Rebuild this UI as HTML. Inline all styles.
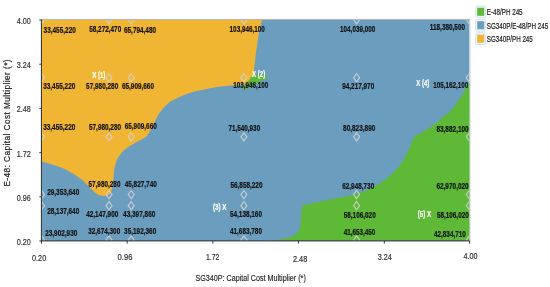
<!DOCTYPE html>
<html lang="en">
<head>
<meta charset="utf-8">
<title>Capital Cost Multiplier chart</title>
<style>
html,body{margin:0;padding:0;background:#fff;}
body{width:550px;height:287px;overflow:hidden;font-family:"Liberation Sans",sans-serif;}
svg{display:block;}
svg text{font-family:"Liberation Sans",sans-serif;}
.dl text{font-size:9.0px;font-weight:bold;fill:#111;stroke:#111;stroke-width:0.2px;}
.xl text{font-size:8.4px;stroke:#fff;stroke-width:0.2px;font-weight:bold;fill:#fff;}
.ax text{font-size:9.9px;fill:#2e2e2e;stroke:#2e2e2e;stroke-width:0.2px;}
.ttl{font-size:9px;fill:#222;stroke:#222;stroke-width:0.15px;}
.ttly{font-size:8.3px;fill:#222;stroke:#222;stroke-width:0.2px;}
.lg text{font-size:9.6px;fill:#151515;stroke:#151515;stroke-width:0.2px;}
.dia path{fill:none;stroke:#d4d4d4;stroke-width:1.25;stroke-opacity:0.8;}
.tk path{stroke:#333;stroke-width:1;fill:none;}
</style>
</head>
<body>
<svg width="550" height="287" viewBox="0 0 550 287">
<rect x="0" y="0" width="550" height="287" fill="#fff"/>
<defs><clipPath id="pc"><rect x="41.5" y="19.9" width="428.1" height="221.1"/></clipPath></defs>
<rect x="469.6" y="19.9" width="1.3" height="221.5" fill="#e6e6e6"/>
<rect x="41.5" y="18.9" width="428.6" height="1.2" fill="#b9b9b9"/>
<g clip-path="url(#pc)">
<rect x="41.5" y="19.9" width="428.1" height="221.1" fill="#6B9DBF"/>
<path d="M41.5,19.9 L262.0,19.9 L259.7,29.0 L258.2,37.0 L256.9,46.0 L255.7,55.0 L254.8,63.0 L254.1,70.0 L253.7,74.3 L246.2,84.0 L240.0,84.4 L234.0,85.0 L228.5,85.7 L221.0,86.6 L214.0,87.6 L206.5,89.0 L199.0,90.4 L192.0,92.3 L184.6,94.8 L177.3,97.9 L170.0,101.8 L164.0,107.3 L159.0,113.4 L155.5,120.0 L152.8,126.0 L150.0,131.0 L146.5,136.4 L141.5,139.5 L137.6,141.5 L133.5,144.0 L129.0,146.5 L125.0,149.5 L121.7,152.5 L118.8,156.5 L116.8,160.0 L115.2,165.0 L114.2,170.0 L113.6,176.0 L113.1,182.0 L112.5,187.0 L111.6,190.5 L110.4,193.0 L108.5,195.0 L105.9,195.8 L102.0,195.8 L98.5,195.0 L94.9,192.5 L90.0,187.8 L86.0,183.5 L82.7,180.3 L78.0,177.0 L74.0,174.2 L69.0,171.2 L64.4,168.8 L58.0,166.5 L52.2,164.5 L46.0,162.7 L41.5,161.5Z" fill="#F0B532"/>
<path d="M253.7,74.3 L260.0,74.8 L266.7,75.6 L266.7,78.4 L258.4,82.8 L251.6,86.2 L245.0,89.0 L242.3,89.6 L242.5,87.5 L246.2,84.0Z" fill="#5DB936"/>
<path d="M276.4,240.4 L282.0,239.0 L287.9,237.7 L291.5,236.8 L294.5,235.5 L297.0,233.5 L298.6,231.2 L299.8,228.0 L300.6,223.0 L301.1,217.0 L301.6,210.5 L302.0,207.3 L302.8,205.4 L304.5,205.0 L311.7,203.4 L320.0,201.6 L328.8,199.7 L343.4,196.8 L352.0,195.0 L360.3,192.8 L366.0,190.6 L372.0,188.0 L378.0,184.5 L383.7,180.7 L389.5,176.0 L394.0,171.9 L398.0,167.5 L401.5,163.0 L404.6,158.0 L407.4,152.6 L409.8,147.5 L411.9,142.2 L413.4,138.5 L414.6,136.6 L418.0,134.5 L423.7,131.3 L430.0,127.2 L434.5,124.2 L440.0,120.0 L446.0,114.8 L451.8,109.4 L456.0,104.3 L459.6,99.2 L462.5,94.5 L464.8,90.0 L467.0,86.0 L469.6,82.0 L469.6,240.4Z" fill="#5DB936"/>
<g class="dia">
<path d="M38.6,19.8 L41.6,15.8 L44.6,19.8 L41.6,23.9Z"/>
<path d="M38.6,77.7 L41.6,73.7 L44.6,77.7 L41.6,81.8Z"/>
<path d="M38.6,136.8 L41.6,132.8 L44.6,136.8 L41.6,140.9Z"/>
<path d="M38.6,194.6 L41.6,190.5 L44.6,194.6 L41.6,198.7Z"/>
<path d="M38.6,205.7 L41.6,201.6 L44.6,205.7 L41.6,209.8Z"/>
<path d="M38.6,240.0 L41.6,235.9 L44.6,240.0 L41.6,244.1Z"/>
<path d="M106.0,19.8 L109.0,15.8 L112.0,19.8 L109.0,23.9Z"/>
<path d="M106.0,77.7 L109.0,73.7 L112.0,77.7 L109.0,81.8Z"/>
<path d="M106.0,136.8 L109.0,132.8 L112.0,136.8 L109.0,140.9Z"/>
<path d="M106.0,194.6 L109.0,190.5 L112.0,194.6 L109.0,198.7Z"/>
<path d="M106.0,205.7 L109.0,201.6 L112.0,205.7 L109.0,209.8Z"/>
<path d="M106.0,240.0 L109.0,235.9 L112.0,240.0 L109.0,244.1Z"/>
<path d="M128.2,19.8 L131.2,15.8 L134.2,19.8 L131.2,23.9Z"/>
<path d="M128.2,77.7 L131.2,73.7 L134.2,77.7 L131.2,81.8Z"/>
<path d="M128.2,136.8 L131.2,132.8 L134.2,136.8 L131.2,140.9Z"/>
<path d="M128.2,194.6 L131.2,190.5 L134.2,194.6 L131.2,198.7Z"/>
<path d="M128.2,205.7 L131.2,201.6 L134.2,205.7 L131.2,209.8Z"/>
<path d="M128.2,240.0 L131.2,235.9 L134.2,240.0 L131.2,244.1Z"/>
<path d="M240.9,19.8 L243.9,15.8 L246.9,19.8 L243.9,23.9Z"/>
<path d="M240.9,77.7 L243.9,73.7 L246.9,77.7 L243.9,81.8Z"/>
<path d="M240.9,136.8 L243.9,132.8 L246.9,136.8 L243.9,140.9Z"/>
<path d="M240.9,194.6 L243.9,190.5 L246.9,194.6 L243.9,198.7Z"/>
<path d="M240.9,205.7 L243.9,201.6 L246.9,205.7 L243.9,209.8Z"/>
<path d="M240.9,240.0 L243.9,235.9 L246.9,240.0 L243.9,244.1Z"/>
<path d="M353.6,19.8 L356.6,15.8 L359.6,19.8 L356.6,23.9Z"/>
<path d="M353.6,77.7 L356.6,73.7 L359.6,77.7 L356.6,81.8Z"/>
<path d="M353.6,136.8 L356.6,132.8 L359.6,136.8 L356.6,140.9Z"/>
<path d="M353.6,194.6 L356.6,190.5 L359.6,194.6 L356.6,198.7Z"/>
<path d="M353.6,205.7 L356.6,201.6 L359.6,205.7 L356.6,209.8Z"/>
<path d="M353.6,240.0 L356.6,235.9 L359.6,240.0 L356.6,244.1Z"/>
<path d="M466.3,19.8 L469.3,15.8 L472.3,19.8 L469.3,23.9Z"/>
<path d="M466.3,77.7 L469.3,73.7 L472.3,77.7 L469.3,81.8Z"/>
<path d="M466.3,136.8 L469.3,132.8 L472.3,136.8 L469.3,140.9Z"/>
<path d="M466.3,194.6 L469.3,190.5 L472.3,194.6 L469.3,198.7Z"/>
<path d="M466.3,205.7 L469.3,201.6 L472.3,205.7 L469.3,209.8Z"/>
<path d="M466.3,240.0 L469.3,235.9 L472.3,240.0 L469.3,244.1Z"/>
</g>
</g>
<path d="M41.4,19.5 V241.4" stroke="#2b2b2b" stroke-width="1" fill="none"/>
<path d="M41,240.9 H469.6" stroke="#2b2b2b" stroke-width="1" fill="none"/>
<g class="tk">
<path d="M41.5,240.9 V243.6"/>
<path d="M127.2,240.9 V243.6"/>
<path d="M212.9,240.9 V243.6"/>
<path d="M298.5,240.9 V243.6"/>
<path d="M384.3,240.9 V243.6"/>
<path d="M469.6,240.9 V243.6"/>
<path d="M39.3,20.0 H41.5"/>
<path d="M39.3,64.2 H41.5"/>
<path d="M39.3,108.4 H41.5"/>
<path d="M39.3,152.6 H41.5"/>
<path d="M39.3,196.8 H41.5"/>
<path d="M39.3,241.0 H41.5"/>
</g>
<g class="dl">
<text x="43.6" y="33.0" textLength="32.2" lengthAdjust="spacingAndGlyphs">33,455,220</text>
<text x="89.2" y="32.4" textLength="32.0" lengthAdjust="spacingAndGlyphs">58,272,470</text>
<text x="124.0" y="32.9" textLength="32.0" lengthAdjust="spacingAndGlyphs">65,794,480</text>
<text x="229.6" y="32.2" textLength="35.2" lengthAdjust="spacingAndGlyphs">103,946,100</text>
<text x="340.1" y="31.8" textLength="35.1" lengthAdjust="spacingAndGlyphs">104,039,000</text>
<text x="429.8" y="30.4" textLength="35.2" lengthAdjust="spacingAndGlyphs">118,380,500</text>
<text x="43.2" y="89.3" textLength="32.1" lengthAdjust="spacingAndGlyphs">33,455,220</text>
<text x="86.1" y="89.3" textLength="32.1" lengthAdjust="spacingAndGlyphs">57,980,280</text>
<text x="121.9" y="89.3" textLength="32.1" lengthAdjust="spacingAndGlyphs">65,909,660</text>
<text x="233.2" y="88.2" textLength="35.0" lengthAdjust="spacingAndGlyphs">103,946,100</text>
<text x="342.2" y="89.4" textLength="32.0" lengthAdjust="spacingAndGlyphs">94,217,970</text>
<text x="433.2" y="87.5" textLength="35.0" lengthAdjust="spacingAndGlyphs">105,162,100</text>
<text x="43.2" y="130.2" textLength="32.1" lengthAdjust="spacingAndGlyphs">33,455,220</text>
<text x="89.0" y="130.2" textLength="32.0" lengthAdjust="spacingAndGlyphs">57,980,280</text>
<text x="124.7" y="128.8" textLength="32.1" lengthAdjust="spacingAndGlyphs">65,909,660</text>
<text x="228.4" y="131.2" textLength="31.8" lengthAdjust="spacingAndGlyphs">71,540,930</text>
<text x="343.1" y="131.0" textLength="32.2" lengthAdjust="spacingAndGlyphs">80,823,890</text>
<text x="436.4" y="132.0" textLength="32.3" lengthAdjust="spacingAndGlyphs">83,882,100</text>
<text x="47.2" y="195.0" textLength="32.0" lengthAdjust="spacingAndGlyphs">29,353,640</text>
<text x="88.4" y="186.6" textLength="32.1" lengthAdjust="spacingAndGlyphs">57,980,280</text>
<text x="124.7" y="186.6" textLength="32.1" lengthAdjust="spacingAndGlyphs">45,827,740</text>
<text x="230.4" y="188.1" textLength="32.1" lengthAdjust="spacingAndGlyphs">56,858,220</text>
<text x="342.2" y="188.9" textLength="32.0" lengthAdjust="spacingAndGlyphs">62,948,730</text>
<text x="436.4" y="188.9" textLength="32.3" lengthAdjust="spacingAndGlyphs">62,970,020</text>
<text x="47.2" y="214.2" textLength="32.0" lengthAdjust="spacingAndGlyphs">28,137,640</text>
<text x="86.2" y="217.3" textLength="32.1" lengthAdjust="spacingAndGlyphs">42,147,900</text>
<text x="123.1" y="217.3" textLength="32.2" lengthAdjust="spacingAndGlyphs">43,397,860</text>
<text x="229.9" y="217.3" textLength="32.1" lengthAdjust="spacingAndGlyphs">54,138,160</text>
<text x="343.7" y="218.4" textLength="32.0" lengthAdjust="spacingAndGlyphs">58,106,020</text>
<text x="437.0" y="218.0" textLength="31.7" lengthAdjust="spacingAndGlyphs">58,106,020</text>
<text x="45.2" y="236.3" textLength="32.1" lengthAdjust="spacingAndGlyphs">23,902,930</text>
<text x="88.2" y="233.6" textLength="32.0" lengthAdjust="spacingAndGlyphs">32,674,300</text>
<text x="124.1" y="233.6" textLength="32.1" lengthAdjust="spacingAndGlyphs">35,192,360</text>
<text x="229.9" y="234.1" textLength="32.1" lengthAdjust="spacingAndGlyphs">41,683,780</text>
<text x="343.7" y="235.1" textLength="31.5" lengthAdjust="spacingAndGlyphs">41,653,450</text>
<text x="434.0" y="236.5" textLength="31.8" lengthAdjust="spacingAndGlyphs">42,834,710</text>
</g>
<g class="xl">
<text x="92.2" y="78.2" textLength="13.2" lengthAdjust="spacingAndGlyphs">X (1)</text>
<text x="252.0" y="77.3" textLength="13.3" lengthAdjust="spacingAndGlyphs">X (2)</text>
<text x="416.3" y="86.2" textLength="12.9" lengthAdjust="spacingAndGlyphs">X (4)</text>
<text x="212.9" y="210.0" textLength="13.4" lengthAdjust="spacingAndGlyphs">(3) X</text>
<text x="417.8" y="216.8" textLength="13.3" lengthAdjust="spacingAndGlyphs">(5) X</text>
</g>
<g class="ax">
<text x="32.0" y="261.2" textLength="14.2" lengthAdjust="spacingAndGlyphs">0.20</text>
<text x="117.5" y="259.7" textLength="14.9" lengthAdjust="spacingAndGlyphs">0.96</text>
<text x="206.0" y="260.3" textLength="13.4" lengthAdjust="spacingAndGlyphs">1.72</text>
<text x="293.0" y="261.6" textLength="14.3" lengthAdjust="spacingAndGlyphs">2.48</text>
<text x="377.7" y="259.6" textLength="14.0" lengthAdjust="spacingAndGlyphs">3.24</text>
<text x="463.4" y="258.9" textLength="14.0" lengthAdjust="spacingAndGlyphs">4.00</text>
<text x="16.8" y="23.9" textLength="14.0" lengthAdjust="spacingAndGlyphs">4.00</text>
<text x="16.8" y="68.1" textLength="14.0" lengthAdjust="spacingAndGlyphs">3.24</text>
<text x="16.8" y="112.3" textLength="14.0" lengthAdjust="spacingAndGlyphs">2.48</text>
<text x="16.8" y="156.5" textLength="14.0" lengthAdjust="spacingAndGlyphs">1.72</text>
<text x="16.8" y="200.7" textLength="14.0" lengthAdjust="spacingAndGlyphs">0.96</text>
<text x="16.8" y="244.9" textLength="14.0" lengthAdjust="spacingAndGlyphs">0.20</text>
</g>
<text class="ttl" x="195.4" y="281.0" textLength="110.4" lengthAdjust="spacingAndGlyphs">SG340P: Capital Cost Multiplier (*)</text>
<text class="ttly" transform="translate(10.1,186.6) rotate(-90)" x="0" y="0" textLength="127.2" lengthAdjust="spacing">E-48: Capital Cost Multiplier (*)</text>
<g class="lg">
<rect x="475.7" y="5.9" width="10" height="11.7" rx="1.6" fill="#f3f7fc" stroke="#cfdff1" stroke-width="0.9"/>
<rect x="475.7" y="19.4" width="10" height="11.7" rx="1.6" fill="#f3f7fc" stroke="#cfdff1" stroke-width="0.9"/>
<rect x="475.7" y="32.8" width="10" height="11.7" rx="1.6" fill="#f3f7fc" stroke="#cfdff1" stroke-width="0.9"/>
<rect x="477.2" y="7.7" width="7" height="8.1" fill="#5DB936"/>
<rect x="477.2" y="21.2" width="7" height="8.1" fill="#6B9DBF"/>
<rect x="477.2" y="34.6" width="7" height="8.1" fill="#F0B532"/>
<text x="486.8" y="14.9" textLength="35.8" lengthAdjust="spacingAndGlyphs">E-48/PH 245</text>
<text x="486.8" y="28.8" textLength="61.4" lengthAdjust="spacingAndGlyphs">SG340P/E-48/PH 245</text>
<text x="486.8" y="42.1" textLength="46.0" lengthAdjust="spacingAndGlyphs">SG340P/PH 245</text>
</g>
</svg>
</body>
</html>
